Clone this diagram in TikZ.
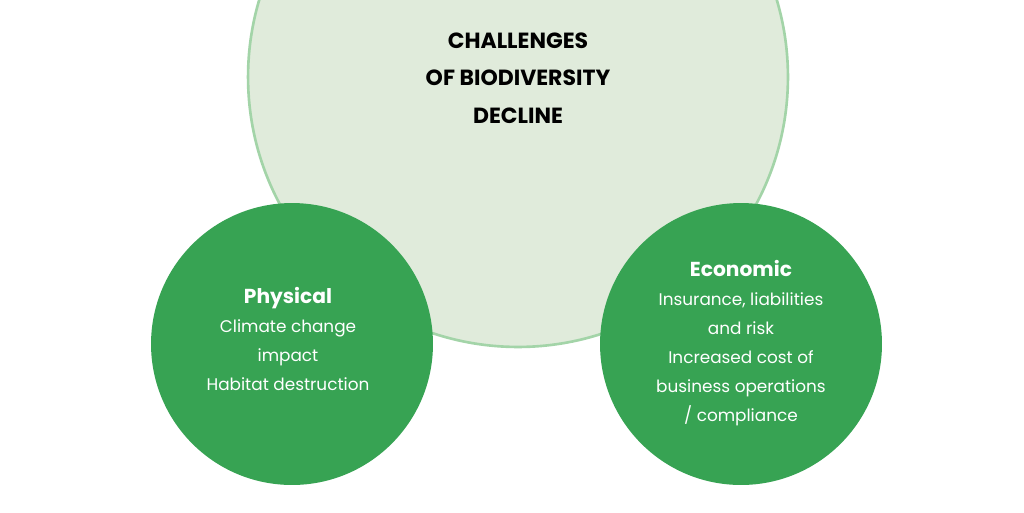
\documentclass[tikz,border=0pt]{standalone}
\usepackage{fontspec}
\setmainfont{Poppins}
\usetikzlibrary{positioning}
\definecolor{palegreen}{HTML}{E0EBDB}
\definecolor{rimgreen}{HTML}{A3D4A8}
\definecolor{leafgreen}{HTML}{37A353}

\begin{document}
\begin{tikzpicture}[
  x=0.02cm, y=-0.02cm,
  big/.style={circle, fill=palegreen, draw=rimgreen, line width=1.5pt, minimum size=10.8cm, inner sep=0pt},
  small/.style={circle, fill=leafgreen, minimum size=5.64cm, inner sep=0pt},
  title/.style={align=center, font=\fontsize{12.5}{21.5}\selectfont\bfseries},
  body/.style={align=center, text=white, font=\fontsize{9.6}{16.6}\selectfont}
]
\clip (0,0) rectangle (1024,512);
\fill[white] (0,0) rectangle (1024,512);

\node[big] (decline) at (518,77) {};
\node[title] (head) at (518,78) {CHALLENGES\\OF BIODIVERSITY\\DECLINE};

\node[small] (physical) at (292,344) {};
\node[small] (economic) at (741,344) {};

\node[body] (phys) at (288,339) {{\fontsize{11.5}{16.6}\selectfont\bfseries Physical}\\Climate change\\impact\\Habitat destruction};
\node[body] (econ) at (741,343) {{\fontsize{11.5}{16.6}\selectfont\bfseries Economic}\\Insurance, liabilities\\and risk\\Increased cost of\\business operations\\/ compliance};
\end{tikzpicture}
\end{document}
